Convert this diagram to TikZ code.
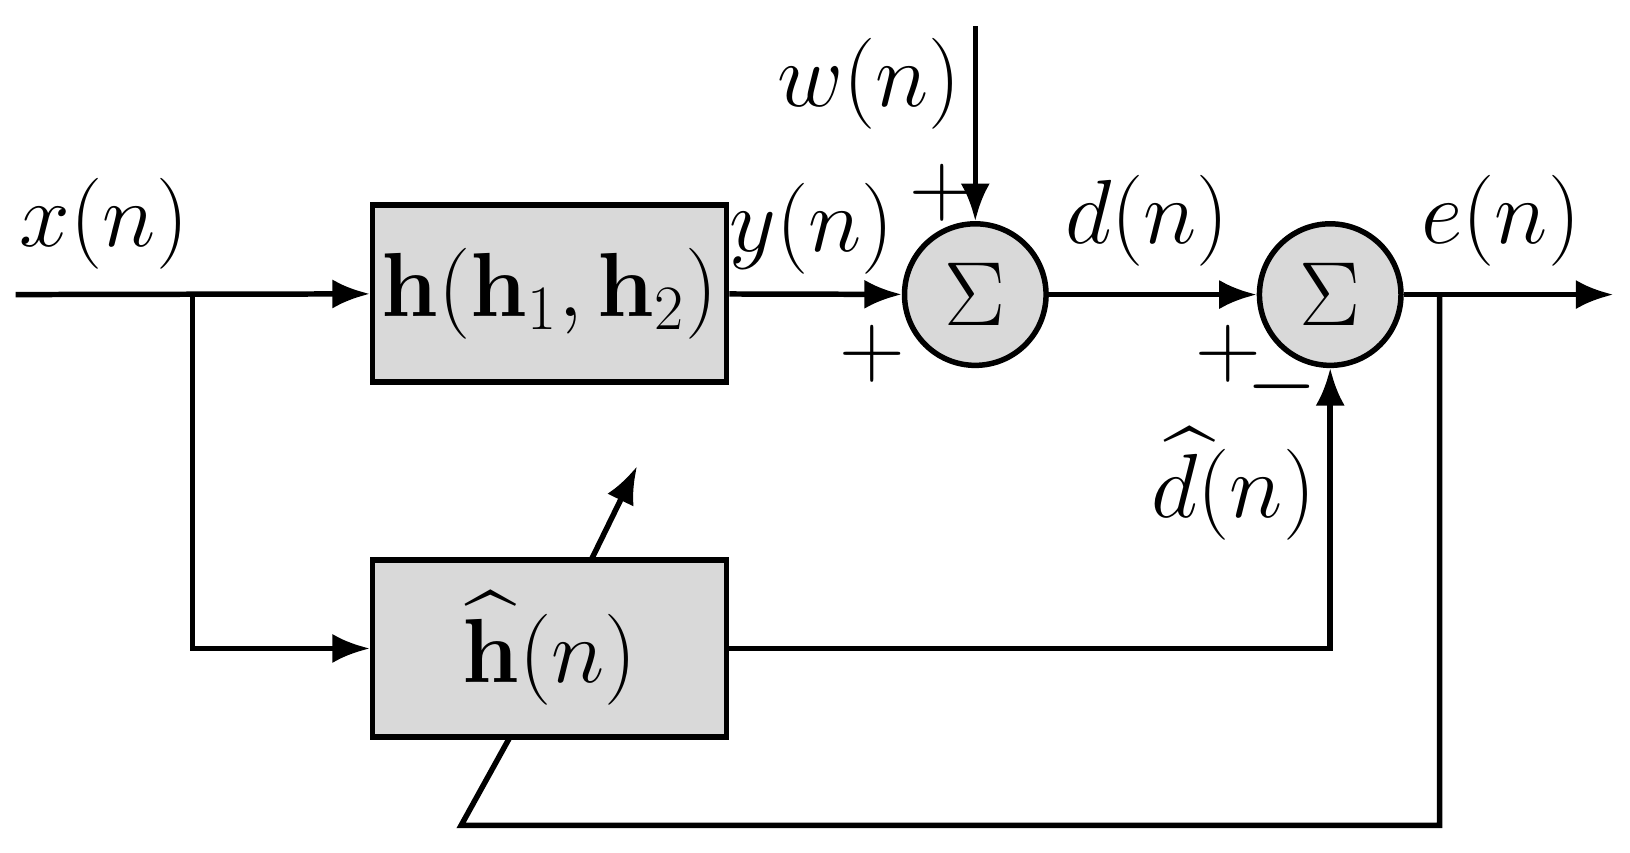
\documentclass[tikz,border=0pt]{standalone}
\usepackage{amsmath}
\usetikzlibrary{arrows.meta,positioning}
\definecolor{blockgray}{RGB}{217,217,217}
\begin{document}
\begin{tikzpicture}[line width=1.5pt,
  every node/.style={inner sep=0pt},
  >={Latex[length=3.6mm,width=2.8mm]},
  blk/.style={draw=black,fill=blockgray,minimum width=3.4cm,minimum height=1.7cm},
  sum/.style={circle,draw=black,fill=blockgray,minimum size=1.36cm},
  lbl/.style={font=\fontsize{23}{27}\selectfont}]
\node (h) at (5.28,-2.82) [blk] {};
\node[lbl] at (h) {$\mathbf{h}(\mathbf{h}_1,\mathbf{h}_2)$};
\node (hh) at (5.28,-6.23) [blk] {};
\node[lbl] at (hh) {$\widehat{\mathbf{h}}(n)$};
\node (s1) at (9.37,-2.83) [sum] {};
\node[lbl] at (s1) {$\Sigma$};
\node (s2) at (12.78,-2.83) [sum] {};
\node[lbl] at (s2) {$\Sigma$};
\coordinate (in) at (0.15,-2.83);
\coordinate (br) at (1.85,-2.83);
\coordinate (w) at (9.37,-0.25);
\coordinate (out) at (15.5,-2.83);
\coordinate (eb) at (13.83,-2.83);
\coordinate (fb) at (4.43,-7.93);
\coordinate (fe) at (4.9,-7.08);
\coordinate (a1) at (5.68,-5.38);
\coordinate (a2) at (6.12,-4.48);
\draw[->] (in) -- (h);
\draw[->] (br) |- (hh);
\draw[->] (h) -- (s1);
\draw[->] (w) -- (s1);
\draw[->] (s1) -- (s2);
\draw[->] (s2) -- (out);
\draw[->] (hh) -| (s2);
\draw (eb) |- (fb) -- (fe);
\draw[->] (a1) -- (a2);
\node[lbl] at (1.0,-2.15) {$x(n)$};
\node[lbl] at (7.8,-2.2) {$y(n)$};
\node[lbl] at (8.35,-0.8) {$w(n)$};
\node[lbl] at (11.02,-2.12) {$d(n)$};
\node[lbl] at (14.42,-2.12) {$e(n)$};
\node[lbl] at (11.85,-4.65) {$\widehat{d}(n)$};
\node[lbl] at (8.38,-3.4) {$+$};
\node[lbl] at (9.05,-1.85) {$+$};
\node[lbl] at (11.8,-3.4) {$+$};
\node[lbl] at (12.32,-3.72) {$-$};
\pgfresetboundingbox
\useasboundingbox (0,0) rectangle (15.66,-8.19);
\end{tikzpicture}
\end{document}
